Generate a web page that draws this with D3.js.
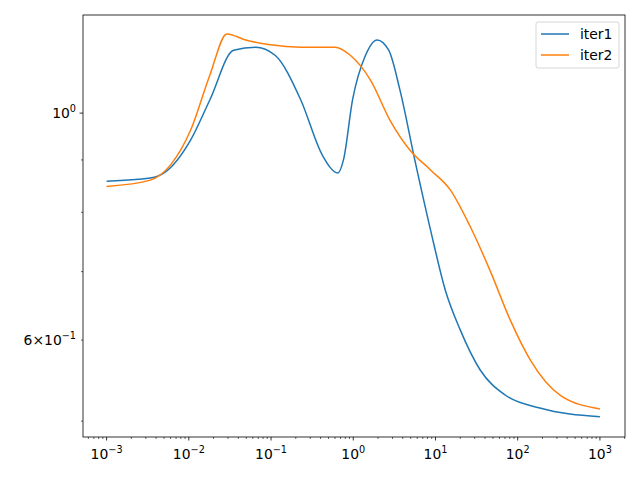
<!DOCTYPE html>
<html><head><meta charset="utf-8">
<script src="https://cdn.jsdelivr.net/npm/d3@7"></script>
<style>body{margin:0;background:#fff}text{font-family:"DejaVu Sans",sans-serif}</style>
</head><body><div id="chart"></div>
<script>
const iter1X = [0.001,0.0034,0.0052,0.0105,0.018,0.035,0.065,0.112,0.23,0.42,0.65,0.76,0.98,1.41,1.95,2.7,3.7,5.6,8.7,13.2,20,35,71,186,1000];
const iter1Y = [0.858,0.864,0.876,0.941,1.030,1.152,1.160,1.139,1.030,0.910,0.874,0.900,1.030,1.139,1.179,1.152,1.053,0.900,0.769,0.671,0.614,0.561,0.530,0.515,0.505];
const iter2X = [0.001,0.0034,0.006,0.0105,0.018,0.029,0.049,0.098,0.23,0.60,0.92,1.62,2.8,4.9,8.7,15.2,26,46,81,142,330,1000];
const iter2Y = [0.848,0.860,0.890,0.962,1.089,1.195,1.179,1.166,1.160,1.160,1.139,1.077,0.984,0.920,0.880,0.841,0.777,0.702,0.628,0.574,0.530,0.514];
const xMajor = [-3,-2,-1,0,1,2,3];
const yLabelled = [1, 0.6];

const width = 640, height = 480;
const margin = {top: 15, right: 15, bottom: 43, left: 83};
const fs = 13.9, sup = 9.7;
const svg = d3.select("#chart").append("svg").attr("width", width).attr("height", height);

const x = d3.scaleLog().domain([10 ** -3.287, 10 ** 3.305]).range([margin.left, width - margin.right]);
const y = d3.scaleLog().domain([0.4825, 1.247]).range([height - margin.bottom, margin.top]);

svg.append("rect").attr("x", margin.left).attr("y", margin.top)
  .attr("width", width - margin.left - margin.right).attr("height", height - margin.top - margin.bottom)
  .attr("fill", "none").attr("stroke", "#000").attr("stroke-width", 0.8);

const bottom = height - margin.bottom;
// x ticks
const xMinor = [];
for (let e = -4; e <= 3; e++) for (let k = 2; k <= 9; k++) {
  const v = k * 10 ** e;
  if (v >= x.domain()[0] && v <= x.domain()[1]) xMinor.push(v);
}
svg.append("g").selectAll("line").data(xMinor).join("line")
  .attr("x1", d => x(d)).attr("x2", d => x(d)).attr("y1", bottom).attr("y2", bottom + 2)
  .attr("stroke", "#000").attr("stroke-width", 0.6);
const xt = svg.append("g").selectAll("g").data(xMajor).join("g")
  .attr("transform", d => `translate(${x(10 ** d)},${bottom})`);
xt.append("line").attr("y2", 3.5).attr("stroke", "#000").attr("stroke-width", 0.8);
const xl = xt.append("text").attr("y", 22).attr("text-anchor", "middle").attr("font-size", fs);
xl.append("tspan").text("10");
xl.append("tspan").attr("dy", -6).attr("font-size", sup).text(d => d < 0 ? "\u2212" + (-d) : d);

// y ticks
const yMinor = [];
for (let e = -1; e <= 0; e++) for (let k = 1; k <= 9; k++) {
  const v = k * 10 ** e;
  if (v >= y.domain()[0] && v <= y.domain()[1]) yMinor.push(v);
}
svg.append("g").selectAll("line").data(yMinor.filter(v => v !== 1)).join("line")
  .attr("x1", margin.left - 2).attr("x2", margin.left).attr("y1", d => y(d)).attr("y2", d => y(d))
  .attr("stroke", "#000").attr("stroke-width", 0.6);
svg.append("line").attr("x1", margin.left - 3.5).attr("x2", margin.left)
  .attr("y1", y(1)).attr("y2", y(1)).attr("stroke", "#000").attr("stroke-width", 0.8);
const l1 = svg.append("text").attr("x", margin.left - 7).attr("y", y(1) + 5).attr("text-anchor", "end").attr("font-size", fs);
l1.append("tspan").text("10");
l1.append("tspan").attr("dy", -6).attr("font-size", sup).text("0");
const l6 = svg.append("text").attr("x", margin.left - 7).attr("y", y(yLabelled[1]) + 5).attr("text-anchor", "end").attr("font-size", fs);
l6.append("tspan").text("6\u00d710");
l6.append("tspan").attr("dy", -6).attr("font-size", sup).text("\u22121");

// lines
const line = d3.line().x(d => x(d[0])).y(d => y(d[1])).curve(d3.curveMonotoneX);
const series = [
  {name: "iter1", color: "#1f77b4", data: d3.zip(iter1X, iter1Y)},
  {name: "iter2", color: "#ff7f0e", data: d3.zip(iter2X, iter2Y)}
];
svg.append("g").selectAll("path").data(series).join("path")
  .attr("d", d => line(d.data)).attr("fill", "none").attr("stroke", d => d.color).attr("stroke-width", 1.5);

// legend
const lg = svg.append("g").attr("transform", "translate(536,22)");
lg.append("rect").attr("width", 83).attr("height", 46).attr("rx", 2).attr("fill", "#fff")
  .attr("stroke", "#ccc").attr("stroke-width", 0.8);
series.forEach((s, i) => {
  lg.append("line").attr("x1", 5).attr("x2", 33).attr("y1", 12 + i * 21).attr("y2", 12 + i * 21)
    .attr("stroke", s.color).attr("stroke-width", 1.5);
  lg.append("text").attr("x", 44).attr("y", 17 + i * 21).attr("font-size", fs).text(s.name);
});
</script></body></html>
